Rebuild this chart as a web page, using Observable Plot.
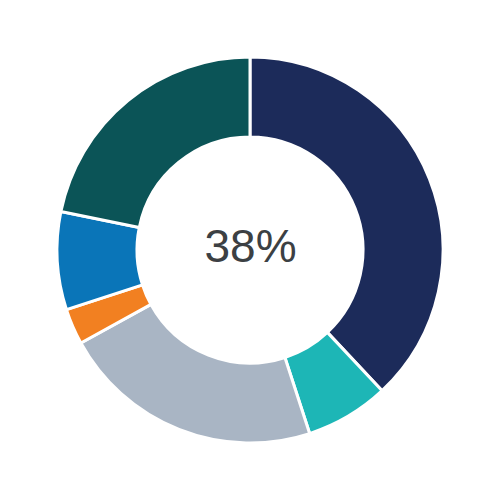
<!DOCTYPE html>
<html>
<head>
<meta charset="utf-8">
<script src="https://cdn.jsdelivr.net/npm/d3@7"></script>
<script src="https://cdn.jsdelivr.net/npm/@observablehq/plot@0.6"></script>
<style>
  html, body { margin: 0; padding: 0; background: #fff; }
  #chart { width: 500px; height: 500px; }
</style>
</head>
<body>
<div id="chart"></div>
<script>
// Data (clockwise from 12 o'clock)
const segments = ["A", "B", "C", "D", "E", "F"];
const values = [38, 7, 22, 3, 8.2, 21.8];
const colors = ["#1c2b5a", "#1db6b6", "#a9b5c4", "#f28021", "#0a75b8", "#0b5457"];
const centerLabel = ["38%"];

const innerR = 0.452;
const outerR = 0.772;

const data = segments.map((s, i) => ({segment: s, value: values[i]}));

function donut(index, scales, vals, dimensions, context) {
  const cx = scales.x(0), cy = scales.y(0);
  const r0 = Math.abs(scales.x(innerR) - cx);
  const r1 = Math.abs(scales.x(outerR) - cx);
  const color = scales.color || ((s) => colors[segments.indexOf(s)]);
  const pie = d3.pie().sort(null).value(d => d.value)(data);
  const arc = d3.arc().innerRadius(r0).outerRadius(r1);
  const g = d3.create("svg:g").attr("transform", `translate(${cx},${cy})`);
  g.selectAll("path")
    .data(pie)
    .join("path")
    .attr("d", arc)
    .attr("fill", d => color(d.data.segment))
    .attr("stroke", "#fff")
    .attr("stroke-width", 3)
    .attr("stroke-linejoin", "round");
  return g.node();
}

const plot = Plot.plot({
  width: 500,
  height: 500,
  margin: 0,
  x: {domain: [-1, 1], axis: null},
  y: {domain: [-1, 1], axis: null},
  color: {type: "ordinal", domain: segments, range: colors},
  style: {background: "#fff"},
  marks: [
    donut,
    Plot.text(centerLabel, {
      x: () => 0, y: () => 0, text: d => d,
      fontSize: 46, fill: "#3c4043",
      fontFamily: "Liberation Sans, Arial, sans-serif",
      dy: -3
    })
  ]
});
document.getElementById("chart").appendChild(plot);
</script>
</body>
</html>
